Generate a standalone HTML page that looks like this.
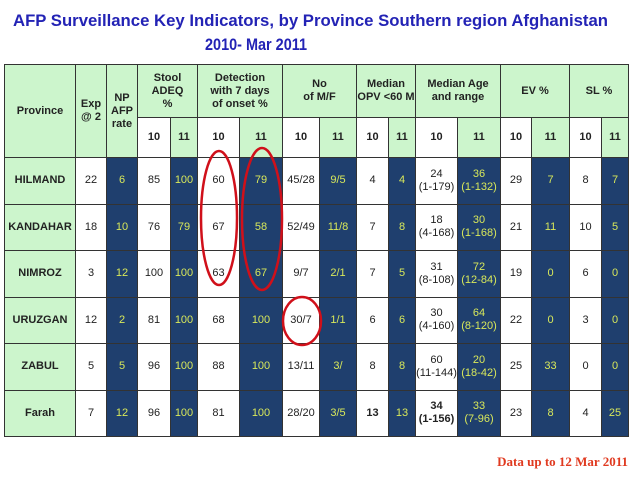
<!DOCTYPE html>
<html><head><meta charset="utf-8"><style>
body{margin:0;width:638px;height:478px;background:#fff;position:relative;overflow:hidden;font-family:"Liberation Sans",sans-serif}
.c{position:absolute;box-sizing:border-box;border:1px solid #333;display:flex;align-items:center;justify-content:center;text-align:center;font-size:11px;line-height:13px;color:#222}
.h{background:#ccf5cc;font-weight:bold;font-size:11px;color:#222}
.w{background:#fff}
.b{background:#1f3f6e;color:#d8e85a}
.p{background:#ccf5cc;font-weight:bold}
</style></head><body>
<svg style="position:absolute;left:0;top:0" width="638" height="62">
<text x="13" y="26" textLength="595" lengthAdjust="spacingAndGlyphs" font-family="Liberation Sans" font-weight="bold" font-size="17" fill="#2323b5">AFP Surveillance Key Indicators, by Province Southern region Afghanistan</text>
<text x="205" y="50" textLength="102" lengthAdjust="spacingAndGlyphs" font-family="Liberation Sans" font-weight="bold" font-size="17" fill="#2323b5">2010- Mar 2011</text>
</svg>
<div id="tbl"></div>
<svg style="position:absolute;left:0;top:0;pointer-events:none" width="638" height="478">
<ellipse cx="219" cy="218" rx="18" ry="67" fill="none" stroke="#d0101a" stroke-width="2.5"/>
<ellipse cx="262" cy="219" rx="20" ry="71" fill="none" stroke="#d0101a" stroke-width="2.5"/>
<ellipse cx="302" cy="321" rx="19" ry="24" fill="none" stroke="#d0101a" stroke-width="2.5"/>
</svg>
<div style="position:absolute;right:10px;top:454px;font-family:'Liberation Serif',serif;font-weight:bold;font-size:13px;color:#e03a20">Data up to 12 Mar 2011</div>
<script>
const provinces=["HILMAND","KANDAHAR","NIMROZ","URUZGAN","ZABUL","Farah"];
const expected=["22","18","3","12","5","7"];
const npAfp=["6","10","12","2","5","12"];
const stool10=["85","76","100","81","96","96"];
const stool11=["100","79","100","100","100","100"];
const det10=["60","67","63","68","88","81"];
const det11=["79","58","67","100","100","100"];
const mf10=["45/28","52/49","9/7","30/7","13/11","28/20"];
const mf11=["9/5","11/8","2/1","1/1","3/","3/5"];
const opv10=["4","7","7","6","8","13"];
const opv11=["4","8","5","6","8","13"];
const age10=["24<br>(1-179)","18<br>(4-168)","31<br>(8-108)","30<br>(4-160)","60<br>(11-144)","<b>34<br>(1-156)</b>"];
const age11=["36<br>(1-132)","30<br>(1-168)","72<br>(12-84)","64<br>(8-120)","20<br>(18-42)","33<br>(7-96)"];
const ev10=["29","21","19","22","25","23"];
const ev11=["7","11","0","0","33","8"];
const sl10=["8","10","6","3","0","4"];
const sl11=["7","5","0","0","0","25"];
const X=[4,75,106,137,170,197,239,282,319,356,388,415,457,500,531,569,601,628];
const Y0=64,Y1=117,Y2=157,RH=46.5;
const T=document.getElementById('tbl');
function cell(x0,x1,y0,y1,cls,html,name){
 const d=document.createElement('div');
 d.className='c '+cls;
 d.style.left=x0+'px';d.style.top=y0+'px';d.style.width=(x1-x0+1)+'px';d.style.height=(y1-y0+1)+'px';
 d.innerHTML=html;
 
 
 T.appendChild(d);
}
cell(X[0],X[1],Y0,Y2,'h','Province','header-province');
cell(X[1],X[2],Y0,Y2,'h','Exp<br>@ 2','header-exp');
cell(X[2],X[3],Y0,Y2,'h','NP<br>AFP<br>rate','header-np-afp');
const groups=[["Stool<br>ADEQ<br>%",3],["Detection<br>with 7 days<br>of onset %",5],["No<br>of M/F",7],["Median<br>OPV &lt;60 M",9],["Median Age<br>and range",11],["EV %",13],["SL %",15]];
groups.forEach((g,i)=>{cell(X[g[1]],X[g[1]+2],Y0,Y1,'h',g[0],'header-group-'+i);
 cell(X[g[1]],X[g[1]+1],Y1,Y2,'h w','10','header-year-10');
 cell(X[g[1]+1],X[g[1]+2],Y1,Y2,'h','11','header-year-11');});
const cols=[expected,npAfp,stool10,stool11,det10,det11,mf10,mf11,opv10,opv11,age10,age11,ev10,ev11,sl10,sl11];
const blue=[0,1,0,1,0,1,0,1,0,1,0,1,0,1,0,1];
provinces.forEach((p,r)=>{
 const y0=Y2+r*RH,y1=Y2+(r+1)*RH;
 cell(X[0],X[1],y0,y1,'p',p,'province-'+p.toLowerCase());
 cols.forEach((c,j)=>{
  let cls=blue[j]?'b':'w';
  let v=c[r];
  if(p==="Farah"&&j===8)v='<b>'+v+'</b>';
  cell(X[j+1],X[j+2],y0,y1,cls,v,'value-cell');
 });
});
</script>
</body></html>
